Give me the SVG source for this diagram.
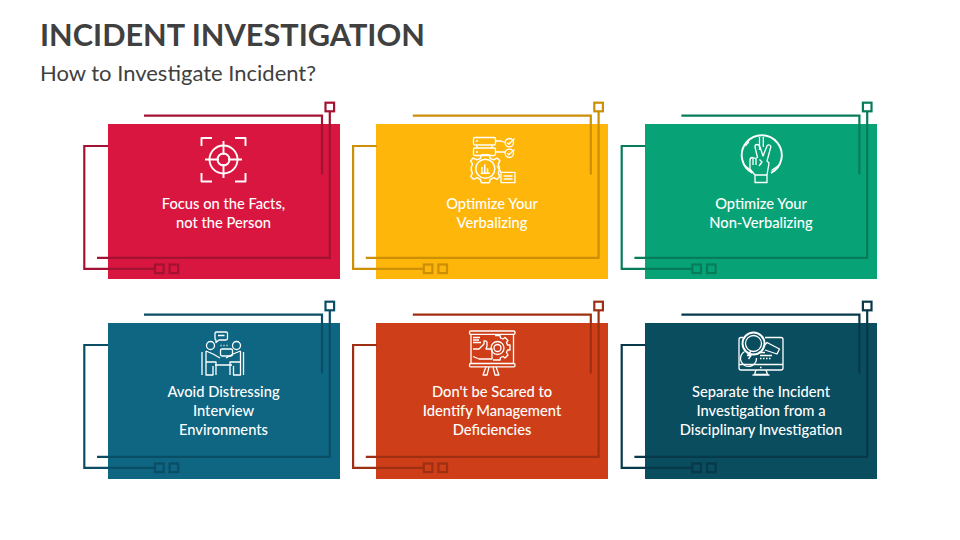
<svg xmlns="http://www.w3.org/2000/svg" width="960" height="540" viewBox="0 0 960 540">
<style>
text{font-family:Lato,"Open Sans",sans-serif;stroke:none}
.t{font-weight:700;font-size:30.700px;fill:#404040}
.s{font-size:22px;fill:#404040}
.l{font-size:14.700px;font-weight:500;fill:#fff;text-anchor:middle}
.f{fill:none;stroke-width:2.2}
.i{fill:none;stroke:#fff;stroke-width:1.3;stroke-linejoin:round}
.b{stroke-width:1.900}
.red{stroke:#a31232}.red rect.c{fill:#d9163f}
.yel{stroke:#cc8f05}.yel rect.c{fill:#ffb60b}
.grn{stroke:#067c5a}.grn rect.c{fill:#07a377}
.blu{stroke:#0a4e66}.blu rect.c{fill:#0e6682}
.org{stroke:#9f2f12}.org rect.c{fill:#ce3f19}
.dk{stroke:#07394a}.dk rect.c{fill:#0a4d5f}
rect.c{stroke:none}
</style>
<defs>
<g id="frame" class="f">
<path d="M144 115.700H322V174.500"/>
<path d="M329.800 111.500V257.800H97"/>
<path d="M108 146H84.300V268.800H155"/>
<rect x="325.500" y="102.700" width="8.600" height="8.600"/>
<rect x="155" y="264.500" width="8.600" height="8.600"/>
<rect x="169.600" y="264.500" width="8.600" height="8.600"/>
</g>
</defs>
<text class="t" x="40" y="45.500">INCIDENT INVESTIGATION</text>
<text class="s" x="40" y="81">How to Investigate Incident?</text>

<g id="card-1" class="red">
<rect class="c" x="108" y="124" width="232" height="155"/>
<use href="#frame"/>
<g class="i">
<path class="b" d="M201.500 146V138H212M235 138H245.500V146M201.500 173V181.500H212M235 181.500H245.500V173"/>
<circle class="b" cx="223.500" cy="159.500" r="14"/>
<circle class="b" cx="223.500" cy="159.500" r="6"/>
<path class="b" d="M205 159.500H219M228 159.500H242M223.500 141V155M223.500 164V178"/>
</g>
<text class="l" x="223.500" y="209">Focus on the Facts,</text>
<text class="l" x="223.500" y="228">not the Person</text>
</g>

<g id="card-2" class="yel">
<rect class="c" x="376" y="124" width="232" height="155"/>
<use transform="translate(268.800 0)" href="#frame"/>
<g class="i">
<rect x="473.500" y="137.500" width="22" height="7.500" rx="1.500"/>
<rect x="473.500" y="148" width="22" height="7.500" rx="1.500"/>
<path d="M477 145V148M492 145V148M476 141H478M476 152H478M495.500 141H501L505 142.500M495.500 152H505"/>
<circle cx="509.300" cy="142.700" r="4.200"/><circle cx="509.300" cy="153.300" r="4.200"/>
<path d="M507.300 142.700L508.800 144.200L514.500 138.500M507.300 153.300L508.800 154.800L514.500 149.500"/>
<g transform="translate(485.300 168.700) scale(1.120) translate(-482.500 -168.500)">
<path d="M479 156L478 159.500L475 160.500L471.500 159L469.500 161.500L471 164.500L470 167L470 170L471 172.500L469.500 175.500L472 178L475 176.500L478 178L479 181H486L487 178L490 176.500L493 178L495.500 175.500L494 172.500L495 170V167L494 164.500L495.500 161.500L493 159L490 160.500L487 159.500L486 156Z"/>
<circle cx="482.500" cy="168.500" r="8.500"/>
<path d="M478.500 172.500H486.500M479.500 172V167M482 172V164.500M484.500 172V168"/>
</g>
<path d="M497 166L501 172"/>
<rect x="501" y="172.300" width="14" height="10.300"/>
<path d="M503.500 176H512.500M503.500 179H512.500"/>
</g>
<text class="l" x="492" y="209">Optimize Your</text>
<text class="l" x="492" y="228">Verbalizing</text>
</g>

<g id="card-3" class="grn">
<rect class="c" x="645" y="124" width="232" height="155"/>
<use transform="translate(537.400 0)" href="#frame"/>
<g class="i">
<path class="b" d="M752.500 173A20 20 0 1 1 771 173"/>
<path d="M759.500 137V150M763.300 137V147M743.500 164.500L751.500 171M780 164.500L771.500 170.500M745.500 146A18 18 0 0 1 749 142"/>
<path d="M755 182.500V175L750 169V160Q750 157.500 752.500 157.500L755.500 158.500L757.500 157.500L755 147Q755 144.500 757 144.500Q759 144.500 760 147L763 156L767 146Q768 144.500 769.500 145Q771.500 146 770.500 148L767 161L769 163L767 175V182.500Z"/>
<path d="M755 175H767M753 158V165M756 159V165M759 166L762 162L759.500 159.500"/>
</g>
<text class="l" x="761" y="209">Optimize Your</text>
<text class="l" x="761" y="228">Non-Verbalizing</text>
</g>

<g id="card-4" class="blu">
<rect class="c" x="108" y="323" width="232" height="156"/>
<use transform="translate(0 199)" href="#frame"/>
<g class="i">
<path d="M216.500 332H226Q227.500 332 227.500 333.500V338.500Q227.500 340 226 340H219L216 342.500V340Q215 340 215 338.500V333.500Q215 332 216.500 332Z"/>
<path d="M218 335.500H224.500M220.500 345.500H221.500M223.500 345.500H224.500M226.500 345.500H227.500"/>
<circle cx="210.500" cy="345.500" r="4"/><circle cx="236.500" cy="345.500" r="4"/>
<rect x="220.500" y="349" width="12" height="7" rx="1.500"/>
<path d="M202 352V375M206 351V362H216V375M206 362V375H213V366M206 351L213 354L220 358M215 365H232"/>
<path d="M243.500 352V375M240.500 351V362H230V375M240.500 362V375H233.500V366M240.500 351L233 354L226 358"/>
</g>
<text class="l" x="223.500" y="397">Avoid Distressing</text>
<text class="l" x="223.500" y="416">Interview</text>
<text class="l" x="223.500" y="435">Environments</text>
</g>

<g id="card-5" class="org">
<rect class="c" x="376" y="323" width="232" height="156"/>
<use transform="translate(268.800 199)" href="#frame"/>
<g class="i">
<rect x="469.500" y="331" width="45.500" height="3.300" rx="1.200"/>
<rect x="469.500" y="363.500" width="45.500" height="3.300" rx="1.200"/>
<path d="M471 334.300V363.500M513.500 334.300V363.500M486 366.800L483 375H487L489 366.800M496 366.800L499 375H495L493 366.800"/>
<path d="M473 337.500H480M473 340H479M473 342.500H481"/>
<path d="M473 349H479L484 344V341Q486 340.500 487 342V346L486 349H492V359H479L473 356.500"/>
<path d="M495 335.500H500L500.500 338L503 339L505 337.500L508 340.500L506.500 342.500L507.500 345H510V350H507.500L506.500 352.500L508 355L505 358L503 356.500L500.500 357.500L500 360H493"/>
<circle cx="497.500" cy="348" r="6.500"/><circle cx="497.500" cy="348" r="3.500"/>
</g>
<text class="l" x="492" y="397">Don't be Scared to</text>
<text class="l" x="492" y="416">Identify Management</text>
<text class="l" x="492" y="435">Deficiencies</text>
</g>

<g id="card-6" class="dk">
<rect class="c" x="645" y="323" width="232" height="156"/>
<use transform="translate(537.400 199)" href="#frame"/>
<g class="i">
<path d="M743 337.500H741Q739 337.500 739 339.500V368Q739 370 741 370H781Q783 370 783 368V339.500Q783 337.500 781 337.500H765"/>
<path d="M739 364.500H783M756 370L754.500 374.500H767.500L766 370M752.500 375H769.500M760 367.500H761.500"/>
<circle class="b" cx="753.500" cy="343.500" r="11"/>
<circle cx="753.500" cy="343.500" r="8"/>
<path d="M763 347L767 342.500L779.500 349L777 354L765 350"/>
<path d="M744.500 351.500A8 8 0 1 0 756.500 358"/>
<path d="M751 351L747.500 355.500H751L748.500 359M760 352.500H765M760 355.500H772M760 358.500H761.500M763 358.500H764.500M766 358.500H767.500M769 358.500H770.500"/>
</g>
<text class="l" x="761" y="397">Separate the Incident</text>
<text class="l" x="761" y="416">Investigation from a</text>
<text class="l" x="761" y="435">Disciplinary Investigation</text>
</g>
</svg>
